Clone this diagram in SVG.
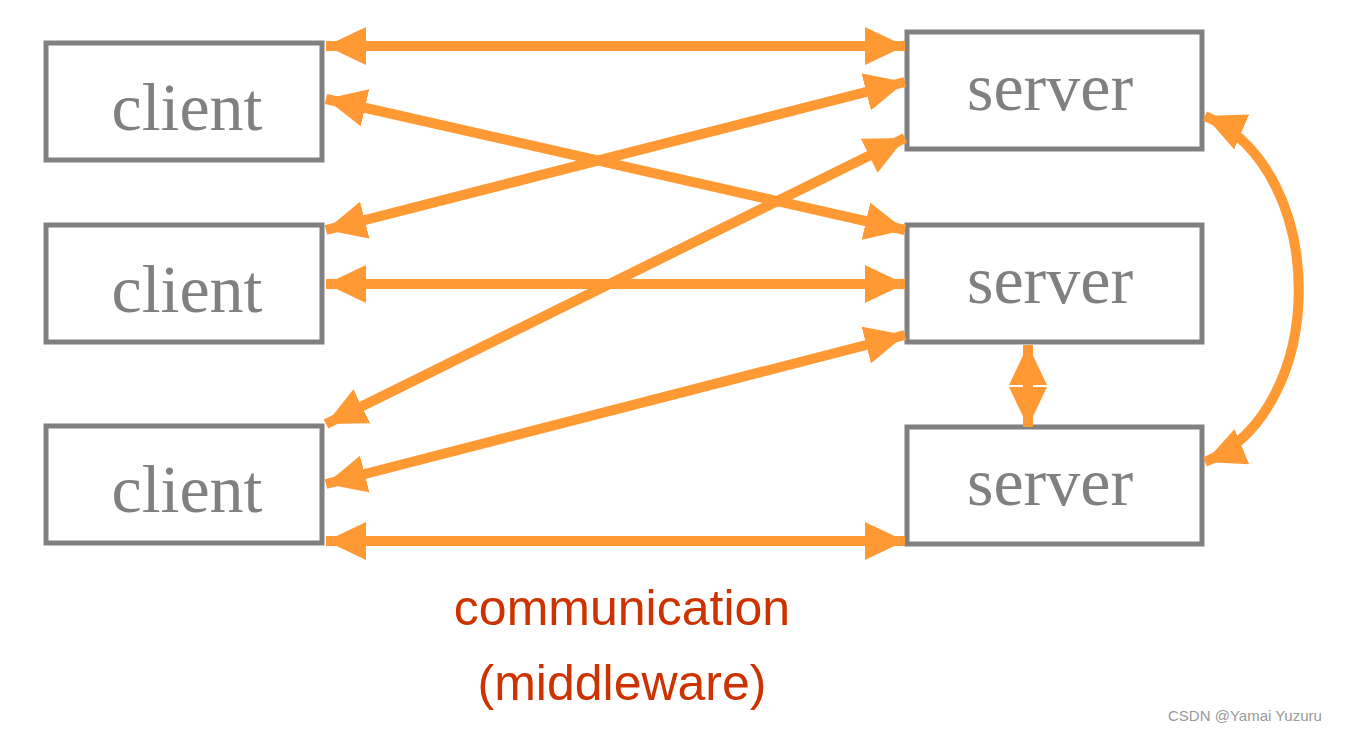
<svg xmlns="http://www.w3.org/2000/svg" width="1354" height="730" viewBox="0 0 1354 730">
<style>
.box{fill:#fff;stroke:#808080;stroke-width:5}
.lbl{font-family:"Liberation Serif",serif;font-size:68px;fill:#808080;text-anchor:middle}
.arr{stroke:#FF9933;stroke-width:10;fill:none;marker-start:url(#ah);marker-end:url(#ah)}
.cap{font-family:"Liberation Sans",sans-serif;font-size:50px;fill:#CC3300;text-anchor:middle}
</style>
<defs>
<marker id="ah" markerUnits="userSpaceOnUse" markerWidth="42" markerHeight="38" refX="40" refY="19" orient="auto-start-reverse">
<path d="M0,0 L40,19 L0,38 Z" fill="#FF9933"/>
</marker>
</defs>
<rect width="1354" height="730" fill="#fff"/>
<g id="client1"><rect class="box" x="46" y="43" width="276" height="117"/><text class="lbl" x="187" y="130">client</text></g>
<g id="client2"><rect class="box" x="46" y="225" width="276" height="117"/><text class="lbl" x="187" y="312">client</text></g>
<g id="client3"><rect class="box" x="46" y="426" width="276" height="117"/><text class="lbl" x="187" y="512">client</text></g>
<g id="server1"><rect class="box" x="907" y="32" width="295" height="117"/><text class="lbl" x="1050" y="110">server</text></g>
<g id="server2"><rect class="box" x="907" y="225" width="295" height="117"/><text class="lbl" x="1050" y="303">server</text></g>
<g id="server3"><rect class="box" x="907" y="427" width="295" height="117"/><text class="lbl" x="1050" y="505">server</text></g>
<g id="connectors">
<line class="arr" x1="326" y1="46" x2="905" y2="46"/>
<line class="arr" x1="326" y1="99" x2="905" y2="230"/>
<line class="arr" x1="326" y1="230" x2="905" y2="82"/>
<line class="arr" x1="326" y1="284" x2="905" y2="284"/>
<line class="arr" x1="326" y1="424" x2="905" y2="138"/>
<line class="arr" x1="326" y1="484" x2="905" y2="335"/>
<line class="arr" x1="326" y1="541" x2="905" y2="541"/>
<line class="arr" x1="1028" y1="345" x2="1028" y2="427"/>
<path class="arr" d="M1205,116 C1330,170 1330,410 1205,462"/>
</g>
<text class="cap" x="622" y="625">communication</text>
<text class="cap" x="622" y="700">(middleware)</text>
<text x="1168" y="721" font-family="Liberation Sans,sans-serif" font-size="15" fill="#999">CSDN @Yamai Yuzuru</text>
</svg>
